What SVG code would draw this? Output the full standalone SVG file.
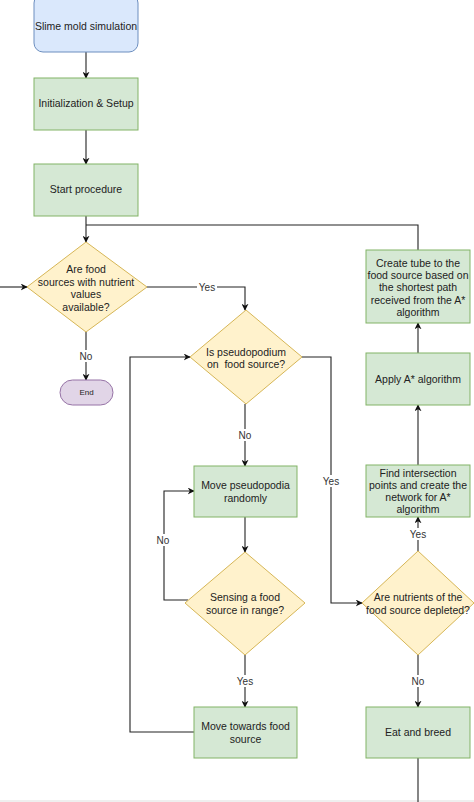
<svg xmlns="http://www.w3.org/2000/svg" width="474" height="802" viewBox="0 0 474 802">
<defs>
<marker id="arr" viewBox="0 0 10 10" refX="9" refY="5" markerWidth="7" markerHeight="7" orient="auto" markerUnits="userSpaceOnUse">
<path d="M0,0 L10,5 L0,10 L3,5 Z" fill="#111"/>
</marker>
<style>
text{font-family:"Liberation Sans",Arial,sans-serif;font-size:10.5px;fill:#222;text-anchor:middle;dominant-baseline:central}
.proc{fill:#d5e8d4;stroke:#82b366;stroke-width:1}
.dec{fill:#fff2cc;stroke:#d6b656;stroke-width:1}
.start{fill:#dae8fc;stroke:#6c8ebf;stroke-width:1}
.end{fill:#e1d5e7;stroke:#9673a6;stroke-width:1}
.c{fill:none;stroke:#222;stroke-width:1.1}
.ca{fill:none;stroke:#222;stroke-width:1.1;marker-end:url(#arr)}
.lbl{font-size:10px;fill:#333}
.lblbg{fill:#fff}
</style>
</defs>
<rect width="474" height="802" fill="#fff"/>
<rect x="0" y="800" width="474" height="2" fill="#efefef"/>
<g id="connectors">
<path class="ca" d="M86,52 V78"/>
<path class="ca" d="M86,130 V164"/>
<path class="ca" d="M86,216 V242"/>
<path class="c" d="M418,250 V225 H86"/>
<path class="ca" d="M0,287 H27"/>
<path class="ca" d="M147,287 H245 V310"/>
<path class="ca" d="M86,332 V380"/>
<path class="ca" d="M245,404 V466"/>
<path class="ca" d="M302,357 H331 V603 H362"/>
<path class="ca" d="M194,732 H130 V357 H190"/>
<path class="ca" d="M245,517 V552"/>
<path class="ca" d="M188,600 H164 V491 H194"/>
<path class="ca" d="M245,655 V707"/>
<path class="ca" d="M418,551 V517"/>
<path class="ca" d="M418,465 V405"/>
<path class="ca" d="M418,353 V323"/>
<path class="ca" d="M418,655 V707"/>
<path class="c" d="M418,758 V802"/>
<rect class="lblbg" x="197" y="281" width="20" height="12"/><text class="lbl" x="207" y="287">Yes</text>
<rect class="lblbg" x="78" y="350" width="16" height="12"/><text class="lbl" x="86" y="356">No</text>
<rect class="lblbg" x="237" y="429" width="16" height="12"/><text class="lbl" x="245" y="435">No</text>
<rect class="lblbg" x="321" y="475" width="20" height="12"/><text class="lbl" x="331" y="481">Yes</text>
<rect class="lblbg" x="155" y="534" width="16" height="12"/><text class="lbl" x="163" y="540">No</text>
<rect class="lblbg" x="235" y="675" width="20" height="12"/><text class="lbl" x="245" y="681">Yes</text>
<rect class="lblbg" x="408" y="528" width="20" height="12"/><text class="lbl" x="418" y="534">Yes</text>
<rect class="lblbg" x="410" y="675" width="16" height="12"/><text class="lbl" x="418" y="681">No</text>
</g>
<g id="n-start">
<rect class="start" x="34" y="-6" width="104" height="58" rx="9"/>
<text x="86" y="26">Slime mold simulation</text>
</g>
<g id="n-init">
<rect class="proc" x="34" y="78" width="104" height="52"/>
<text x="86" y="103">Initialization &amp; Setup</text>
</g>
<g id="n-proc">
<rect class="proc" x="34" y="164" width="104" height="52"/>
<text x="86" y="189">Start procedure</text>
</g>
<g id="n-dec1">
<path class="dec" d="M86,242 L147,287 L86,332 L27,287 Z"/>
<text x="86" y="269">Are food</text>
<text x="86" y="281.5">sources with nutrient</text>
<text x="86" y="294">values</text>
<text x="86" y="306.5">available?</text>
</g>
<g id="n-end">
<rect class="end" x="60" y="380" width="53" height="25" rx="12.5"/>
<text x="86.5" y="392.5" style="font-size:8px">End</text>
</g>
<g id="n-dec2">
<path class="dec" d="M246,310 L302,357 L246,404 L190,357 Z"/>
<text x="246" y="352">Is pseudopodium</text>
<text x="246" y="364">on&#160; food source?</text>
</g>
<g id="n-move">
<rect class="proc" x="194" y="466" width="103" height="51"/>
<text x="245.5" y="485">Move pseudopodia</text>
<text x="245.5" y="498">randomly</text>
</g>
<g id="n-dec3">
<path class="dec" d="M245,552 L305,603 L245,655 L185,603 Z"/>
<text x="245" y="597">Sensing a food</text>
<text x="245" y="610">source in range?</text>
</g>
<g id="n-towards">
<rect class="proc" x="194" y="707" width="103" height="51"/>
<text x="245.5" y="726">Move towards food</text>
<text x="245.5" y="739">source</text>
</g>
<g id="n-dec4">
<path class="dec" d="M418,551 L474,603 L418,655 L362,603 Z"/>
<text x="418" y="597">Are nutrients of the</text>
<text x="418" y="610">food source depleted?</text>
</g>
<g id="n-eat">
<rect class="proc" x="366" y="707" width="104" height="51"/>
<text x="418" y="732">Eat and breed</text>
</g>
<g id="n-find">
<rect class="proc" x="366" y="465" width="104" height="52"/>
<text x="418" y="473">Find intersection</text>
<text x="418" y="485">points and create the</text>
<text x="418" y="497">network for A*</text>
<text x="418" y="509">algorithm</text>
</g>
<g id="n-astar">
<rect class="proc" x="366" y="353" width="104" height="52"/>
<text x="418" y="379">Apply A* algorithm</text>
</g>
<g id="n-tube">
<rect class="proc" x="366" y="250" width="104" height="73"/>
<text x="418" y="263">Create tube to the</text>
<text x="418" y="275">food source based on</text>
<text x="418" y="287">the shortest path</text>
<text x="418" y="300">received from the A*</text>
<text x="418" y="312">algorithm</text>
</g>
</svg>
